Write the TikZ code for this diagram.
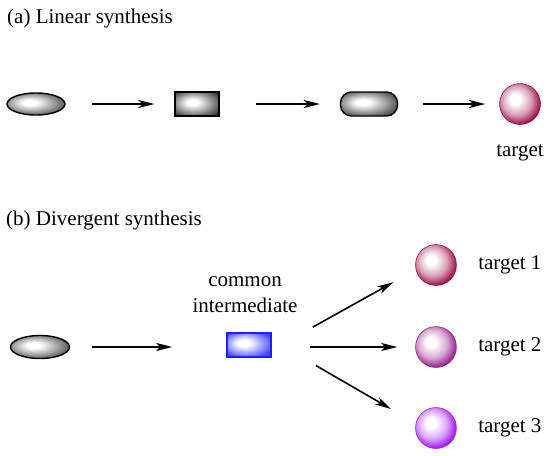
\documentclass[tikz,border=0pt]{standalone}
\usepackage{fontspec}
\setmainfont{Liberation Serif}
\usetikzlibrary{arrows.meta,shapes.geometric,positioning}

\definecolor{tred}{HTML}{9B0F46}
\definecolor{tpink}{HTML}{961E8C}
\definecolor{tviolet}{HTML}{A014F0}
\definecolor{tblue}{HTML}{1E1EFF}

% shadings for the pieces
\pgfdeclareradialshading{greyball}{\pgfpoint{-6bp}{4bp}}{color(0bp)=(white);color(6bp)=(white);color(18bp)=(black!35);color(27bp)=(black!62);color(35bp)=(black!85);color(50bp)=(black!90)}
\pgfdeclareradialshading{bluebox}{\pgfpoint{-7bp}{5bp}}{color(0bp)=(white);color(7bp)=(white);color(20bp)=(blue!40);color(30bp)=(blue!72);color(50bp)=(blue!75)}
\pgfdeclareradialshading{redball}{\pgfpoint{-7bp}{7bp}}{color(0bp)=(white);color(6bp)=(white);color(18bp)=(tred!40);color(28bp)=(tred);color(36bp)=(tred!85!black);color(50bp)=(tred!85!black)}
\pgfdeclareradialshading{pinkball}{\pgfpoint{-7bp}{7bp}}{color(0bp)=(white);color(6bp)=(white);color(18bp)=(tpink!40);color(28bp)=(tpink);color(36bp)=(tpink!85!black);color(50bp)=(tpink!85!black)}
\pgfdeclareradialshading{violetball}{\pgfpoint{-7bp}{7bp}}{color(0bp)=(white);color(6bp)=(white);color(18bp)=(tviolet!40);color(28bp)=(tviolet);color(36bp)=(tviolet!85!black);color(50bp)=(tviolet!85!black)}

\begin{document}
\begin{tikzpicture}[x=1pt,y=-1pt,
  font=\fontsize{21}{25}\selectfont,
  arr/.style={-{Stealth[length=16pt,width=8pt,inset=4pt]},line width=1.6pt},
  piece/.style={draw=black,line width=1.4pt,inner sep=0pt,shading=greyball},
  sphere/.style={circle,minimum size=41pt,inner sep=0pt,draw=#1,line width=0.5pt}]
\useasboundingbox (0,0) rectangle (550,456);

% (a) linear
\node[anchor=base west,inner sep=0pt] (titleA) at (7,23) {(a) Linear synthesis};
\node[piece,ellipse,minimum width=58pt,minimum height=22pt] (startA) at (36,104) {};
\node[piece,rectangle,minimum width=44pt,minimum height=24pt] (boxA) at (197,104) {};
\node[piece,rectangle,rounded corners=11pt,minimum width=57pt,minimum height=24pt] (pillA) at (369,104) {};
\node[sphere=tred,shading=redball] (tA) at (520,104) {};
\node[below=16pt of tA] (tAlbl) {target};
\draw[arr,shorten <=26pt,shorten >=20pt] (startA.east) -- (boxA.west);
\draw[arr,shorten <=36pt,shorten >=20pt] (boxA.east) -- (pillA.west);
\draw[arr,shorten <=25pt,shorten >=14pt] (pillA.east) -- (tA.west);

% (b) divergent
\node[anchor=base west,inner sep=0pt] (titleB) at (6,225) {(b) Divergent synthesis};
\node[piece,ellipse,minimum width=59pt,minimum height=23pt] (startB) at (40,347) {};
\node[draw=tblue,line width=1.5pt,minimum width=44pt,minimum height=24pt,inner sep=0pt,shading=bluebox] (inter) at (249,345) {};
\node[align=center] (interlbl) at (245,295) {common\\[1pt]intermediate};
\node[sphere=tred,shading=redball] (t1) at (436,265) {};
\node[sphere=tpink,shading=pinkball] (t2) at (436,347) {};
\node[sphere=tviolet,shading=violetball] (t3) at (436,428) {};
\node[right=18pt of t1] (t1lbl) {target 1};
\node[right=18pt of t2] (t2lbl) {target 2};
\node[right=18pt of t3] (t3lbl) {target 3};
\draw[arr,shorten <=22pt,shorten >=54pt] (startB.east) -- (startB.east-|inter.west);
\draw[arr,shorten <=47pt,shorten >=25pt] ([yshift=-5pt]inter.east) -- ([yshift=-5pt]t1.west);
\draw[arr,shorten <=38pt,shorten >=18pt] (inter.east|-t2) -- (t2.west);
\draw[arr,shorten <=51pt,shorten >=28pt] ([yshift=5pt]inter.east) -- ([yshift=5pt]t3.west);
\end{tikzpicture}
\end{document}
